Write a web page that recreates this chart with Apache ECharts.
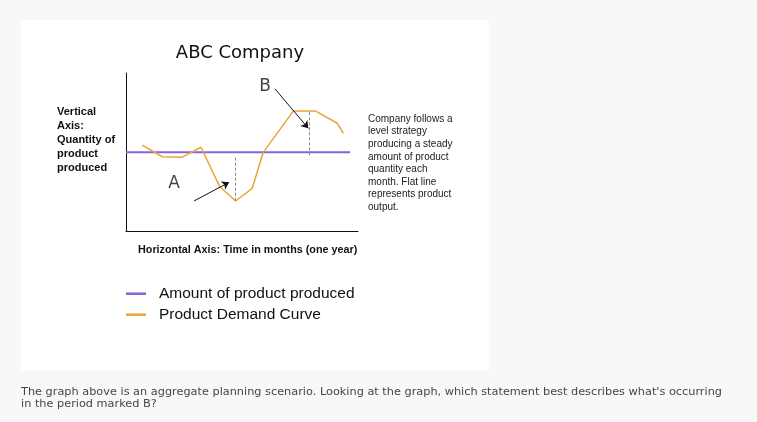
<!DOCTYPE html>
<html>
<head>
<meta charset="utf-8">
<script src="https://cdn.jsdelivr.net/npm/echarts@6/dist/echarts.min.js"></script>
<style>
html,body{margin:0;padding:0;background:#f8f8f8;}
#chart{width:757px;height:422px;}
</style>
</head>
<body>
<div id="chart"></div>
<script>
// ---- data ----
const chartTitle = 'ABC Company';
const monthPos = [0.84, 1.88, 2.88, 3.88, 4.84, 5.67, 6.53, 7.10, 8.65, 9.81, 10.93, 11.24];
const demand   = [54.4, 47.0, 46.6, 53.0, 28.2, 19.0, 27.0, 49.8, 75.9, 75.9, 68.2, 61.8];
const productionLevel = 49.8;
const productionRange = [0, 11.59];
const gapLineA = [[5.67, 46.4], [5.67, 19.0]];
const gapLineB = [[9.48, 75.1], [9.48, 47.7]];
const arrowA = [[3.52, 19.0], [5.33, 30.8]];
const arrowB = [[7.71, 89.9], [9.43, 65.0]];
const markLabels = [[2.49, 30.2, 'A'], [7.19, 91.3, 'B']];
const seriesNames = ['Amount of product produced', 'Product Demand Curve'];
const yAxisNote = ['Vertical', 'Axis:', 'Quantity of', 'product', 'produced'];
const xAxisNote = 'Horizontal Axis: Time in months (one year)';
const sideNote = ['Company follows a', 'level strategy', 'producing a steady', 'amount of product',
  'quantity each', 'month. Flat line', 'represents product', 'output.'];
const questionLines = [
  "The graph above is an aggregate planning scenario. Looking at the graph, which statement best describes what's occurring",
  'in the period marked B?'
];

// ---- build ----
const PURPLE = '#8563e0';
const ORANGE = '#eca43a';
const demandData = monthPos.map((m, i) => [m, demand[i]]);
const prodData = productionRange.map(x => [x, productionLevel]);

const graphics = [
  { type: 'rect', z: -10, shape: { x: 21, y: 20, width: 468, height: 350 }, style: { fill: '#ffffff' } }
];
yAxisNote.forEach((t, i) => graphics.push({
  type: 'text', left: 57, top: 106 + i * 14,
  style: { text: t, font: 'bold 11px "Liberation Sans", Arial, sans-serif', fill: '#111' }
}));
sideNote.forEach((t, i) => graphics.push({
  type: 'text', left: 368, top: 114 + i * 12.6,
  style: { text: t, font: '10px "Liberation Sans", Arial, sans-serif', fill: '#222' }
}));
graphics.push({
  type: 'text', left: 138, top: 244.5,
  style: { text: xAxisNote, font: 'bold 10.8px "Liberation Sans", Arial, sans-serif', fill: '#111' }
});
questionLines.forEach((t, i) => graphics.push({
  type: 'text', left: 21, top: 387 + i * 11.8,
  style: { text: t, font: '11.3px "DejaVu Sans", Verdana, sans-serif', fill: '#46444e' }
}));

const chart = echarts.init(document.getElementById('chart'));
chart.setOption({
  backgroundColor: '#f8f8f8',
  animation: false,
  title: {
    text: chartTitle, left: 235, top: 39, textAlign: 'center',
    textStyle: { fontFamily: '"Comic Sans MS", "DejaVu Sans", sans-serif', fontSize: 18, fontWeight: 'normal', color: '#111' }
  },
  graphic: graphics,
  legend: {
    orient: 'vertical', left: 121, top: 280.7,
    itemWidth: 20, itemHeight: 2.5, itemGap: 5,
    data: [
      { name: seriesNames[0], icon: 'rect' },
      { name: seriesNames[1], icon: 'rect' }
    ],
    textStyle: { fontFamily: '"Liberation Sans", Arial, sans-serif', fontSize: 15.5, color: '#111', padding: [0, 0, 0, 8] }
  },
  grid: { left: 126, top: 73, width: 232, height: 158 },
  xAxis: {
    type: 'value', min: 0, max: 12,
    axisLine: { show: true, onZero: false, lineStyle: { color: '#111', width: 1 } },
    axisTick: { show: false }, axisLabel: { show: false }, splitLine: { show: false }
  },
  yAxis: {
    type: 'value', min: 0, max: 100,
    axisLine: { show: true, onZero: false, lineStyle: { color: '#111', width: 1 } },
    axisTick: { show: false }, axisLabel: { show: false }, splitLine: { show: false }
  },
  series: [
    {
      name: seriesNames[0], type: 'line', data: prodData, symbol: 'none',
      lineStyle: { color: PURPLE, width: 2 }, itemStyle: { color: PURPLE }, z: 3
    },
    {
      name: seriesNames[1], type: 'line', data: demandData, symbol: 'none',
      lineStyle: { color: ORANGE, width: 1.5 }, itemStyle: { color: ORANGE }, z: 4
    },
    {
      type: 'lines', coordinateSystem: 'cartesian2d', z: 5,
      data: [{ coords: gapLineA }, { coords: gapLineB }],
      symbol: 'none',
      lineStyle: { color: '#8a8a8a', width: 1, type: [3, 2], opacity: 1 }
    },
    {
      type: 'lines', coordinateSystem: 'cartesian2d', z: 6,
      data: [{ coords: arrowA }, { coords: arrowB }],
      symbol: ['none', 'arrow'], symbolSize: 7,
      lineStyle: { color: '#111', width: 1, opacity: 1 }
    },
    {
      type: 'scatter', data: markLabels, symbolSize: 1, itemStyle: { color: 'rgba(0,0,0,0)' }, z: 7,
      label: {
        show: true, position: 'inside', formatter: p => p.data[2],
        fontFamily: '"DejaVu Sans", sans-serif', fontSize: 17, fontWeight: 'normal', color: '#111'
      }
    }
  ]
});
</script>
</body>
</html>
